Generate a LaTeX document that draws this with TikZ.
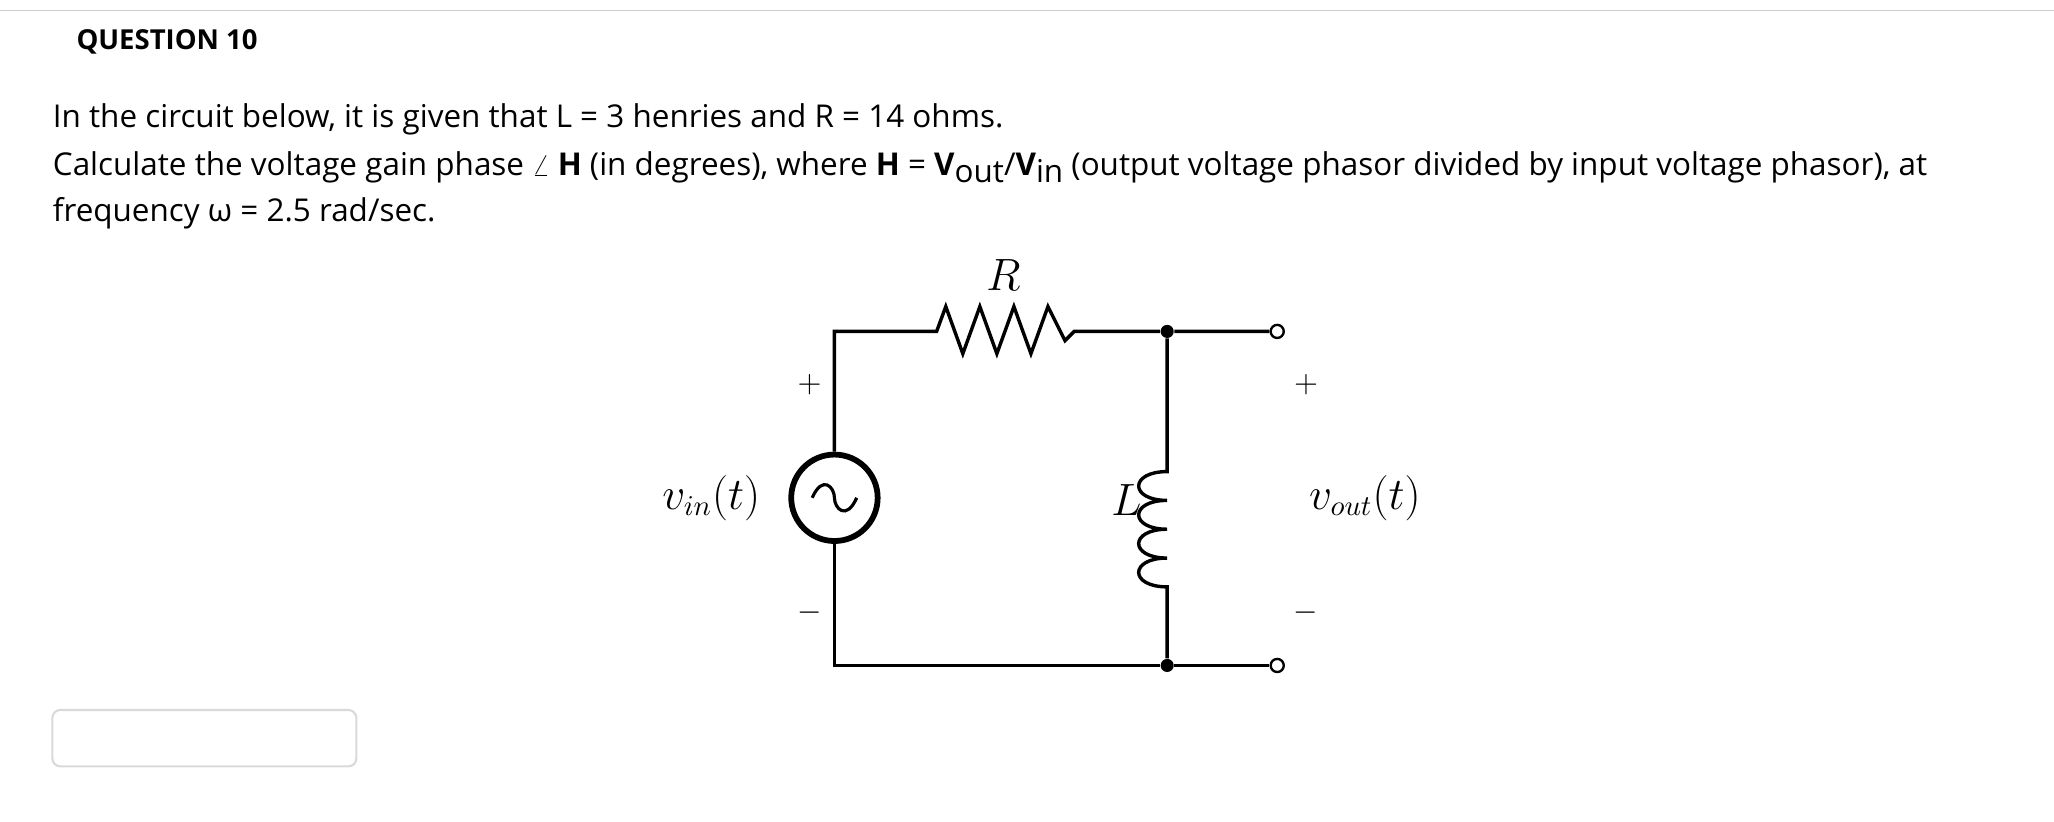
\documentclass[tikz,border=0pt]{standalone}
\usepackage{fontspec}
\setmainfont{Open Sans}
\usepackage{amsmath}
\usetikzlibrary{positioning}
\tikzset{
  wire/.style={line width=1.3pt},
  body/.style={anchor=west, inner sep=0pt, font=\fontsize{12}{14}\selectfont},
  lbl/.style={font=\fontsize{16}{18}\selectfont},
  sign/.style={font=\fontsize{12}{14}\selectfont},
  dot/.style={circle, fill, inner sep=0pt, minimum size=5pt},
  term/.style={circle, draw, line width=0.9pt, fill=white, inner sep=0pt, minimum size=5pt}
}
\begin{document}
\begin{tikzpicture}[x=0.5pt,y=-0.5pt]

 % Frame
\useasboundingbox (0,0) rectangle (1568,627);
\draw[gray!40, line width=0.6pt] (0,8) -- (1568,8);

 % Text
\node[body, font=\bfseries\fontsize{10.5}{12}\selectfont] (title) at (58,32) {QUESTION 10};
\node[body] (line1) at (40,91) {In the circuit below, it is given that L = 3 henries and R = 14 ohms.};
\node[body] (line2) at (40,128) {Calculate the voltage gain phase $\angle$ \textbf{H} (in degrees), where \textbf{H} = \textbf{V}\raisebox{-0.4ex}{out}/\textbf{V}\raisebox{-0.4ex}{in} (output voltage phasor divided by input voltage phasor), at};
\node[body] (line3) at (40,163) {frequency ω = 2.5 rad/sec.};

 % Circuit points
\coordinate (tl) at (637,253);
\coordinate (bl) at (637,508);
\node[dot] (jt) at (891,253) {};
\node[dot] (jb) at (891,508) {};
\node[term] (ot) at (975,253) {};
\node[term] (ob) at (975,508) {};
\node[circle, draw, line width=2.2pt, minimum size=66pt*0.5, inner sep=0pt] (src) at (637,380) {};

 % Wires
\draw[wire] (src.north) -- (tl) -- (715,253)
  -- (722,234) -- (735,270) -- (748,234) -- (761,270) -- (774,234) -- (787,270) -- (800,234) -- (813,260) -- (820,253)
  -- (jt) -- (ot);
\draw[wire] (src.south) -- (bl) -- (jb) -- (ob);
\draw[wire] (jt) -- (891,360)
  \foreach \k in {0,1,2,3} {
    .. controls (862,360+22*\k) and (862,382+22*\k) .. (891,382+22*\k) }
  -- (jb);
\draw[line width=1.2pt] (620,380) .. controls (628,362) and (637,372) .. (637,380)
  .. controls (637,388) and (646,398) .. (654,380);

 % Labels
\node[lbl] (rlbl) at (766,210) {$R$};
\node[lbl] (llbl) at (860,382) {$L$};
\node[lbl] (vin) at (543,380) {$v_{in}(t)$};
\node[lbl] (vout) at (1042,380) {$v_{out}(t)$};
\node[sign] (pin) at (618,294) {$+$};
\node[sign] (min) at (618,468) {$-$};
\node[sign] (pout) at (997,294) {$+$};
\node[sign] (mout) at (997,468) {$-$};

 % Answer box
\draw[gray!30, line width=0.8pt, rounded corners=3pt] (40,542) rectangle (272,585);

\end{tikzpicture}
\end{document}
